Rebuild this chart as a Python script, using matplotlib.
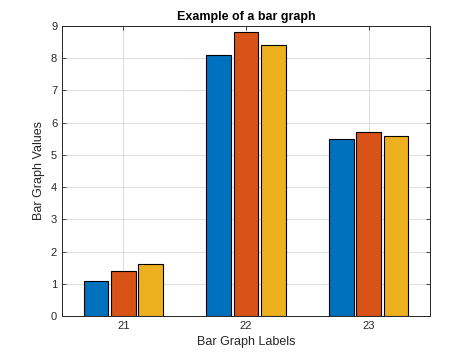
import numpy as np
import matplotlib
matplotlib.use("Agg")
import matplotlib.pyplot as plt

labels = [21, 22, 23]
series_a = [1.1, 8.1, 5.5]
series_b = [1.4, 8.8, 5.7]
series_c = [1.6, 8.4, 5.6]

colors = ["#0072BD", "#D95319", "#EDB120"]
plt.rcParams["font.family"] = ["Liberation Sans", "DejaVu Sans"]

fig = plt.figure(figsize=(4.74, 3.55), dpi=100)
ax = fig.add_axes([0.1308, 0.1099, 0.7764, 0.8169])

x = np.array(labels, dtype=float)
width = 0.2
offset = 0.2222
for k, (vals, c) in enumerate(zip([series_a, series_b, series_c], colors)):
    ax.bar(x + (k - 1) * offset, vals, width, color=c, edgecolor="black",
           linewidth=0.8, zorder=3)

ax.set_xlim(20.5, 23.5)
ax.set_ylim(0, 9)
ax.set_xticks(labels)
ax.set_yticks(range(0, 10))
ax.grid(True, color="#dcdcdc", linewidth=0.7, zorder=0)
ax.set_axisbelow(True)
ax.tick_params(direction="in", top=True, right=True, length=3, width=0.6,
               colors="#262626", labelsize=8)
for s in ax.spines.values():
    s.set_color("#262626")
    s.set_linewidth(0.7)

ax.set_xlabel("Bar Graph Labels", fontsize=9, color="#262626")
ax.set_ylabel("Bar Graph Values", fontsize=9, color="#262626")
ax.set_title("Example of a bar graph", fontsize=9, fontweight="bold", pad=4)

fig.savefig("out.png", dpi=100)
